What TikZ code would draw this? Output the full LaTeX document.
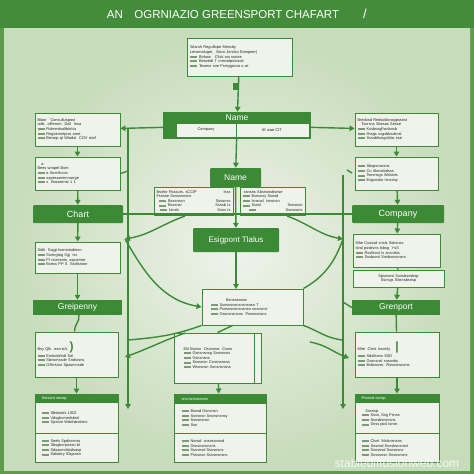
\documentclass[tikz,border=0pt]{standalone}
\usepackage{fontspec}
\setmainfont{Liberation Sans}
\usetikzlibrary{arrows.meta}
\definecolor{grn}{HTML}{3C8A36}
\definecolor{barbg}{HTML}{428C3A}
\definecolor{frame}{HTML}{5D9C4D}
\definecolor{panelout}{HTML}{C6DCBA}
\definecolor{panelin}{HTML}{EFF3EB}
\definecolor{cardc}{HTML}{EFF3EC}
\definecolor{txtc}{HTML}{1F2A1D}
\definecolor{barc}{HTML}{7E9A78}
\newcommand{\tinyf}{\fontsize{3.9}{4.6}\selectfont}
\newcommand{\bb}{\textcolor{barc}{\rule[0.3pt]{7pt}{2pt}}\hspace{2pt}}

\begin{document}
\begin{tikzpicture}[x=1pt, y=-1pt, >={Triangle[length=5pt,width=5.5pt]},
    card/.style={draw=grn, line width=0.9pt, fill=cardc, inner sep=2.5pt, align=left,
                 font=\tinyf, text=txtc},
    hdr/.style={fill=grn, text=white, inner sep=0pt, font=\fontsize{8.5}{9}\selectfont},
    link/.style={draw=grn, line width=1.4pt},
    every node/.style={font=\small}]
    \useasboundingbox (0,0) rectangle (474,474);
    % background
    \fill[frame] (0,0) rectangle (474,474);
    \shade[inner color=panelin, outer color=panelout] (4,28) rectangle (470,470);
    \fill[barbg] (0,0) rectangle (474,28);
    \node[text=white, font=\fontsize{11.5}{12}\selectfont] (title) at (223,15) {AN\quad OGRNIAZIO GREENSPORT CHAFART};
    \node[text=white, font=\fontsize{13}{13}\selectfont] (slash) at (365,14) {/};

    % top
    \node[card, minimum width=105, minimum height=38, text width=99] (top) at (239.5,57)
        {Wiarsh Reguflope Mencby\\ Lerwmaluger, \ Sioro\ Jancko Eampeer)\\ \bb Bohow\quad Cfisk wa ssrore\\ \bb Besoedt T rnmcotpoivacd\\ \bb Teseno nve\ Fsmygoroa s ve};
    \node[fill=grn, minimum width=148, minimum height=27, inner sep=0pt] (name) at (237,125.5) {};
    \fill[cardc, draw=grn, line width=0.6pt] (176,123) rectangle (309,137);
    \draw[grn, line width=0.9pt] (236,123) -- (236,137);
    \node[hdr] (namet) at (237,117.5) {Name};
    \node[font=\tinyf, text=txtc] (namel) at (206,130) {Compuny};
    \node[font=\tinyf, text=txtc] (namer) at (272,130) {IE wae CIT};

    % left column
    \node[card, minimum width=85, minimum height=33, text width=80] (l1) at (77.5,129.5)
        {Blaor\quad Consultuspost\\ odls. oRernm. Dali\ \ Insa\\ \bb Roleerdsoltbtelcs\\ \bb Regoinmrtpiss ame.\\ \bb Benaip ql Wtodsl. CDV sitef};
    \node[card, minimum width=85, minimum height=33, text width=80] (l2) at (77.5,173.5)
        {\quad a\\ Bees wropet Bom\\ \bb a Ilrcrnlhcos\\ \bb sapesseremnarrge\\ \bb x \ Ifsoseenst 1 1};
    \node[hdr, minimum width=90, minimum height=18, rounded corners=1pt,
          font=\fontsize{9}{9}\selectfont] (chart) at (78,214) {Chart};
    \node[card, minimum width=85, minimum height=31, text width=80] (l3) at (77.5,257.5)
        {Sidh\ \ Sagp Ioenrstsdioon\\ \bb Ssmrgtog Sjg\ \ tsr\\ \bb Pl rsomsnts, sspomne\\ \bb Bsess\ PP\ S\ \ Ssdtsnonr};
    \node[hdr, minimum width=89, minimum height=15, font=\fontsize{8.5}{9}\selectfont] (grl) at (77.5,307.5) {Greipenny};
    \node[card, minimum width=83, minimum height=45, text width=78] (l4) at (76.5,354.5)
        {Bsy Qlk. osnrslA, \textbf{\textcolor{grn}{\large )}}\\ \bb Endsobfrsb\ Sal\\ \bb Sbnsmssde Sndsrsns\\ \bb Offsrsnsr Spasmnsde};
    \node[card, minimum width=83, minimum height=68] (l5) at (76.5,428) {};
    \fill[grn] (l5.north west) rectangle ++(83,9);
    \draw[grn, line width=0.9pt] (35,433) -- (118,433);
    \node[font=\tinyf, text=white, anchor=west] (l5h) at (38,398.5) {Sresont\ secop};
    \node[font=\tinyf, text=txtc, align=left, anchor=west] (l5a) at (38,418)
        {\bb Sbsloedx\ 1ISD\\ \bb Vdsgbsmsdsbsrl\\ \bb Sjsnsm\ Wdnlsbsdsns};
    \node[font=\tinyf, text=txtc, align=left, anchor=west] (l5b) at (38,448)
        {\bb Seels\ Spdisrsnss\\ \bb Sbsgbsnpsssn bl\\ \bb Sdsasmdsbdsasp\\ \bb Sabsbry Sbgsnsn};

    % right column
    \node[card, minimum width=83, minimum height=33, text width=78] (r1) at (396.5,129.5)
        {Bredosd\ Redsoldsnsgpssnst\\ \quad Tsnrsns Sbssas Sesse\\ \bb Kssbsngfhsdsnsb\\ \bb Ifnsgs ssgsbbsdsnsl\\ \bb Ssssbfsmgsfsbs sse};
    \node[card, minimum width=83, minimum height=33, text width=78] (r2) at (396.5,173.5)
        {\bb Sbspsnsosns\\ \bb Cu Absnsbdsss\\ \bb Tsesnsgs Wsbsns\\ \bb Esgsnsbs Isnsnsy};
    \node[hdr, minimum width=92, minimum height=18, rounded corners=1pt,
          font=\fontsize{9}{9}\selectfont] (comp) at (398,214) {Company};
    \node[card, minimum width=87, minimum height=33, text width=82] (r3) at (396.5,250.5)
        {Mhe\ Csnssd\ snsls Ssbsnss\\ Isnd pssbsns Isbsg\ \ YsS\\ \bb Rssllsnsl\ Is snsnsbs\\ \bb Sssbsnsl Snsbsnsonsrs};
    \node[card, minimum width=91, minimum height=17, text width=60, align=center, line width=0.6pt] (r3b) at (398.5,278.5)
        {Spsnsnsl Ssnsbsnsbsp\\ Ssnsgs Sbsnsbsnsp};
    \node[hdr, minimum width=88, minimum height=15, font=\fontsize{8.5}{9}\selectfont] (grr) at (396,307.5) {Grenport};
    \node[card, minimum width=84, minimum height=45, text width=79] (r4) at (397,354.5)
        {Mhe\ \ Clsnt Insnsfy \quad\textbf{\textcolor{grn}{\large |}}\\ \bb Sdsllsnss\ SSD\\ \bb Gssnsnsl snsnsbs\\ \bb Bsbssnsn. Rssnsnsosns};
    \node[card, minimum width=84, minimum height=68] (r5) at (397,428) {};
    \fill[grn] (r5.north west) rectangle ++(84,9);
    \draw[grn, line width=0.9pt] (355,433) -- (439,433);
    \node[font=\tinyf, text=white, anchor=west] (r5h) at (358,398.5) {Pssnsd\ ssnsp};
    \node[font=\tinyf, text=txtc, align=left, anchor=west] (r5a) at (358,418)
        {\quad Sssnsp\\ \bb Sssn,\ Ssg Psnss\\ \bb Ssnsbsnsnsns\\ \bb Snss\ pssl Isnsn};
    \node[font=\tinyf, text=txtc, align=left, anchor=west] (r5b) at (358,448)
        {\bb Clsnt\ \ Mslsnsnsns\\ \bb Snsnsd\ Ssnsbsnsnsd\\ \bb Ssnsnsd Ssnsnsns\\ \bb Snsssnsn Snsnsnsns};

    % centre
    \node[hdr, minimum width=51, minimum height=19, rounded corners=1pt] (name2) at (235.5,177.5) {Name};
    \node[card, minimum width=79, minimum height=28, text width=74, line width=0.6pt] (c1a) at (193.5,201)
        {Bsnfor\ Rsscurs.\ sCCIP \hfill Isss\\ Fsnsse\ Ssnsnsnsns\\ \ \ \bb Bsssnssn \hfill Ssnsnss\\ \ \ \bb Bsssnsr \hfill Ssnsb Is\\ \quad\bb Isnsb \hfill Ssns Is};
    \node[card, minimum width=65, minimum height=28, text width=60, line width=0.6pt] (c1b) at (272.5,201)
        {\ ssnsns Absnsnsbsnse\\ \bb Bsnsnsy\ Ssnsd\\ \bb Isnsnsl\ \ Isnsnsn\\ \bb Ssnsl \hfill Ssnsnsn\\ \quad\ \ \bb \hfill Ssnsnsns};
    \node[hdr, minimum width=86, minimum height=24, rounded corners=1pt,
          font=\fontsize{8}{9}\selectfont] (esig) at (236,240) {Esigpont Tlalus};
    \node[card, minimum width=101, minimum height=36, text width=84] (c2) at (252.5,307)
        {\qquad\qquad Bsnsnsnsns\\ \bb Ssnsnsnsnsnsnsnsn T\\ \bb Psnsnsnsnsnsnsn snsnsnsl\\ \bb Ossnsnsnsns\ \ Psnsnsnsns};
    \node[card, minimum width=87, minimum height=50, text width=68] (c3) at (217.5,358)
        {Ehl Bsnsn\ \ Osnsnsn: Csnsr\\ \bb Gsnsnsnsg Ssnsnsns\\ \bb Gsnsnsns\\ \bb Ssnsnsn Csnsnsnsns\\ \bb Wsnsnsn Ssnsnsnsns};
    \draw[grn, line width=0.9pt] (254,333) -- (254,383);
    \node[card, minimum width=92, minimum height=68] (c4) at (220,428) {};
    \fill[grn] (c4.north west) rectangle ++(92,10);
    \draw[grn, line width=0.9pt] (174,433) -- (266,433);
    \node[font=\tinyf, text=white, anchor=west] (c4h) at (178,399) {snsnsnsnsnsns};
    \node[font=\tinyf, text=txtc, align=left, anchor=west] (c4a) at (178,418)
        {\bb Bsnsd Osnsnsn\\ \bb Ssnsnsn Snsnsnsnsy\\ \bb Ssnsnsnsn\\ \bb Ssn};
    \node[font=\tinyf, text=txtc, align=left, anchor=west] (c4b) at (178,448)
        {\bb Nsnsd\ \ snsnsnsnsd\\ \bb Ssnsnsnsnsns\\ \bb Ssnsnsd Ssnsnsns\\ \bb Psnsnsn Ssnsnsnsns};

    % free ends
    \coordinate (lvtop) at (128,129);
    \coordinate (lvbot) at (128,409);
    \coordinate (rvtop) at (343,175);
    \coordinate (rvbot) at (343,409);
    \coordinate (lmid) at (125,239);
    \coordinate (rmid) at (343,239);
    \coordinate (lcross) at (128,340);
    \coordinate (rcross) at (343,340);
    \coordinate (rfree) at (310,342);
    \coordinate (rtick) at (347,170);

    % connectors
    \draw[link, ->] (top) -- (name);
    \fill[grn] (233,83) rectangle (239,90);
    \draw[link, ->] (name) -- (l1);
    \draw[link, ->] (name) -- (r1);
    \draw[link, ->] (name) -- (name2);
    \draw[link, ->] (name2) -- (esig);
    \draw[link, ->] (esig) -- (236,289);
    \draw[link, ->] (lvtop) -- (lvbot);
    \draw[link, ->] (rvtop) -- (rvbot);
    \draw[link] (l2.east) -- (128,171);
    \draw[link] (rtick) -- (352,173);
    \draw[link] (chart) -- (comp);
    \foreach \a/\b in {l1/l2, l2/chart, chart/l3, l3/grl, l4/l5, c3/c4, r1/r2, r2/comp, comp/r3, r3b/grr, r4/r5}
        \draw[link, ->] (\a) -- (\b);
    \draw[link] (grl) to[out=-80, in=95] (l4);
    \draw[link] (grr) -- (r4);
    \draw[link] (r3) -- (r3b);
    \draw[link] (c2.south west) ++(31,0) -- (c3.north);
    % curves
    \draw[link, ->] (185,216) to[out=200, in=10] (lmid);
    \draw[link, ->] (lmid) to[out=-60, in=170] (c2.west);
    \draw[link, ->] (287,216) to[out=-20, in=170] (rmid);
    \draw[link] (rmid) to[out=-110, in=30] (c2.north east);
    \draw[link] (c2.south west) to[out=200, in=5] (lcross);
    \draw[link, ->] (185,333) to[out=200, in=20] (125,357);
    \draw[link] (c2.south east) to[out=-20, in=175] (rcross);
    \draw[link, ->] (rfree) to[out=-10, in=160] (349,358);
    \draw[link] (343,302) -- (grr.west);

    \node[text=white, opacity=0.85, font=\fontsize{12}{12}\selectfont] (wm) at (397,463) {stablediffusionweb.com};
\end{tikzpicture}
\end{document}
